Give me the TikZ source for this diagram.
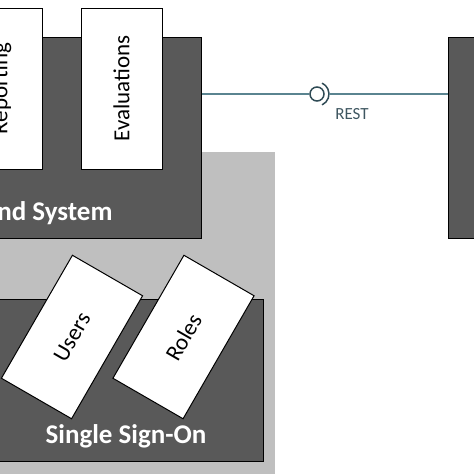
\documentclass[tikz,border=0pt]{standalone}
\usepackage{fontspec}
\setmainfont{Carlito}
\definecolor{boxdark}{HTML}{595959}
\definecolor{boxlight}{HTML}{BFBFBF}
\definecolor{restline}{HTML}{5A8490}
\definecolor{restedge}{HTML}{2F4B55}
\definecolor{resttext}{HTML}{3E5660}
\tikzset{
  darkbox/.style={draw=black, line width=1pt, fill=boxdark, inner sep=0pt},
  modbox/.style={draw=black, line width=1pt, fill=white, inner sep=0pt,
    minimum width=161pt, minimum height=81pt, font=\fontsize{23}{23}\selectfont},
  boxlabel/.style={text=white, font=\bfseries\fontsize{27}{27}\selectfont},
}
\begin{document}
\begin{tikzpicture}[x=1pt, y=-1pt]
      \useasboundingbox (0,0) rectangle (474,474);
      \clip (0,0) rectangle (474,474);
      \node[fill=boxlight, minimum width=285pt, minimum height=332pt, inner sep=0pt] (ssoarea) at (132.5,318) {};
      \node[darkbox, minimum width=211pt, minimum height=201pt] (backend) at (95.5,137.5) {};
      \node[modbox, rotate=90] (reporting) at (1.5,88.5) {Reporting};
      \node[modbox, rotate=90] (evaluations) at (121.5,88.5) {Evaluations};
      \node[boxlabel, anchor=base east] (backendlbl) at (116,220) {nd System};
      \node[darkbox, minimum width=274pt, minimum height=162pt] (sso) at (126,380) {};
      \node[modbox, minimum width=142pt, rotate=60] (users) at (72,337) {Users};
      \node[modbox, minimum width=142pt, rotate=60] (roles) at (183.5,337) {Roles};
      \node[boxlabel, anchor=base] (ssolbl) at (126,443) {Single Sign-On};
      \node[darkbox, minimum width=36pt, minimum height=201pt] (client) at (466,137.5) {};
      \node[circle, draw=restedge, line width=1.5pt, fill=white, minimum size=14pt, inner sep=0pt] (rest) at (317,94) {};
      \node[text=resttext, font=\fontsize{17}{17}\selectfont] (restlbl) at (352,114) {REST};
      \begin{scope}[line width=1.2pt, draw=restline]
        \draw (backend.east |- rest) to (rest.west);
        \draw[draw=restedge, line width=1.5pt] ([shift={(-65:12pt)}]rest.center) arc[start angle=-65, end angle=65, radius=12pt];
        \draw ([xshift=12pt]rest.center) to (client.west |- rest);
      \end{scope}
    \end{tikzpicture}
\end{document}
